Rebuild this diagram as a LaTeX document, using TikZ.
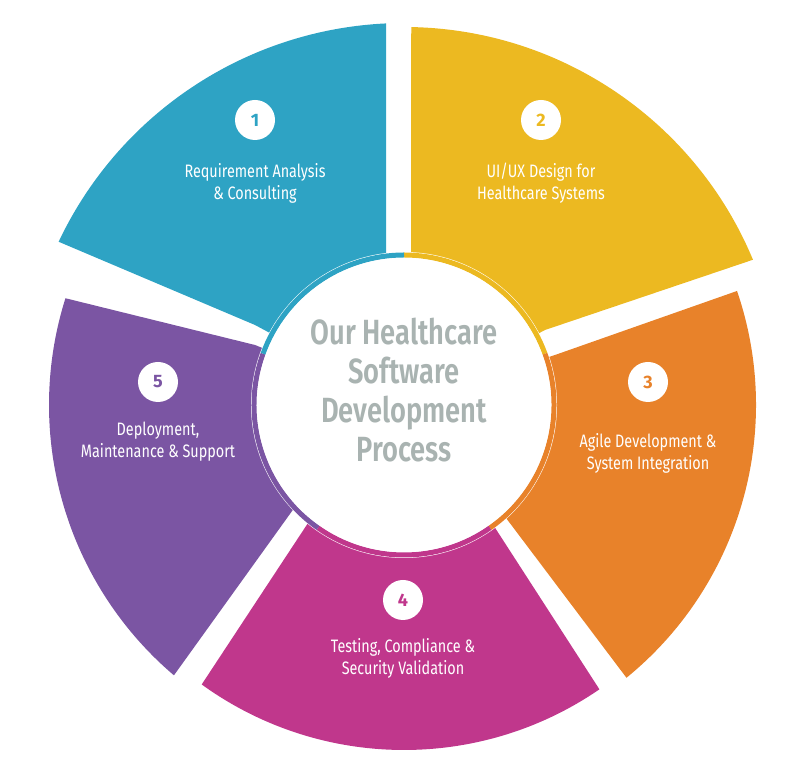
\documentclass[tikz,border=0pt]{standalone}
\usetikzlibrary{calc}
\usepackage{fontspec}
\setmainfont{Fira Sans}
\newfontfamily\condfont[FakeStretch=0.8]{Fira Sans}
\newfontfamily\condbold[FakeStretch=0.78]{Fira Sans SemiBold}
\definecolor{cteal}{HTML}{2EA3C4}
\definecolor{cyell}{HTML}{ECB921}
\definecolor{corng}{HTML}{E8822A}
\definecolor{cmag}{HTML}{C0378C}
\definecolor{cpurp}{HTML}{7B55A3}
\definecolor{cgray}{HTML}{A9B3B1}
\begin{document}
\begin{tikzpicture}[x=1pt,y=1pt,
  lab/.style={text=white,font=\condfont\fontsize{18}{22}\selectfont,align=center},
  num/.style={circle,fill=white,minimum size=40pt,inner sep=0pt,font=\bfseries\fontsize{18}{20}\selectfont}]
\useasboundingbox (0,0) rectangle (800,778);
\coordinate (O) at (404,373);
% wedges
\fill[cteal] (386,480) -- ($(O)+(92.7:382)$) arc[start angle=92.7,end angle=154.7,radius=382] -- (255,453) -- (O) -- cycle;
\fill[cyell] (411,480) -- ($(O)+(88.9:378)$) arc[start angle=88.9,end angle=22.6,radius=378] -- (545,448) -- (O) -- cycle;
\fill[corng] (555,423) -- ($(O)+(18.9:352)$) arc[start angle=18.9,end angle=-50.8,radius=352] -- (500,268) -- (O) -- cycle;
\fill[cmag] (490,258) -- ($(O)+(-55.5:345)$) arc[start angle=-55.5,end angle=-125.9,radius=345] -- (310,258) -- (O) -- cycle;
\fill[cpurp] (300,278) -- ($(O)+(-130.4:355)$) arc[start angle=-130.4,end angle=-197.5,radius=355] -- (255,433) -- (O) -- cycle;
% center circle with colored ring
\fill[white] (O) circle (153);
\draw[line width=5pt,cyell] (O) ++(90:150) arc (90:20:150);
\draw[line width=5pt,corng] (O) ++(20:150) arc (20:-55:150);
\draw[line width=5pt,cmag] (O) ++(-55:150) arc (-55:-125:150);
\draw[line width=5pt,cpurp] (O) ++(-125:150) arc (-125:-200:150);
\draw[line width=5pt,cteal] (O) ++(160:150) arc (160:90:150);
\fill[white] (O) circle (147);
\node[text=cgray,font=\condbold\fontsize{35}{39}\selectfont,align=center] (c) at (404,388) {Our Healthcare\\Software\\Development\\Process};
% numbers & labels
\node[num,text=cteal] (n1) at (255,658) {1};
\node[lab] (l1) at (255,595) {Requirement Analysis\\\& Consulting};
\node[num,text=cyell] (n2) at (541,658) {2};
\node[lab] (l2) at (541,595) {UI/UX Design for\\Healthcare Systems};
\node[num,text=corng] (n3) at (648,396) {3};
\node[lab] (l3) at (648,325) {Agile Development \&\\System Integration};
\node[num,text=cmag] (n4) at (403,178) {4};
\node[lab] (l4) at (403,120) {Testing, Compliance \&\\Security Validation};
\node[num,text=cpurp] (n5) at (158,396) {5};
\node[lab] (l5) at (158,336) {Deployment,\\Maintenance \& Support};
\end{tikzpicture}
\end{document}
